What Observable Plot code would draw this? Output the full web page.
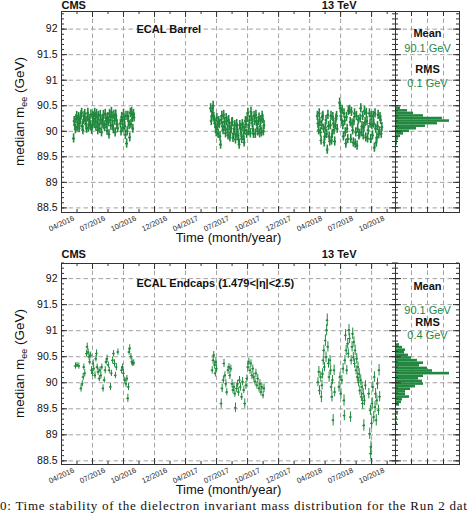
<!DOCTYPE html>
<html><head><meta charset="utf-8">
<script src="https://cdn.jsdelivr.net/npm/d3@7"></script>
<script src="https://cdn.jsdelivr.net/npm/@observablehq/plot@0.6"></script>
<style>
body{margin:0;background:#fff;}
#root{position:relative;width:474px;height:513px;overflow:hidden;font-family:"Liberation Sans",Arial,sans-serif;}
.pane{position:absolute;}
#cap{position:absolute;left:0px;top:499px;white-space:nowrap;font-family:"Liberation Serif","DejaVu Serif",serif;font-size:13px;line-height:13px;letter-spacing:0.75px;color:#111;}
</style></head>
<body><div id="root"></div>
<script>
// ---------- axis ticks ----------
const tickLabels = ["04/2016","07/2016","10/2016","12/2016","04/2017","07/2017","10/2017","12/2017","04/2018","07/2018","10/2018"];
const tickPos = [0,1,2,3,4,5,6,7,8,9,10];
const xMinor = [0.5,1.5,2.5,3.5,4.5,5.5,6.5,7.5,8.5,9.5,10.5];
const yTicks = [88.5,89,89.5,90,90.5,91,91.5,92];
const yMinor = [88.5,88.6,88.7,88.8,88.9,89,89.1,89.2,89.3,89.4,89.5,89.6,89.7,89.8,89.9,90,90.1,90.2,90.3,90.4,90.5,90.6,90.7,90.8,90.9,91,91.1,91.2,91.3,91.4,91.5,91.6,91.7,91.8,91.9,92,92.1,92.2,92.3];
const histGrid = [16,32,48];

// ---------- ECAL Barrel: time series ----------
const ebT = [0.39,0.43,0.47,0.51,0.55,0.59,0.63,0.67,0.71,0.75,0.79,0.83,0.87,0.91,0.95,0.99,1.03,1.07,1.11,1.15,1.19,1.23,1.27,1.31,1.35,1.39,1.43,1.47,1.51,1.55,1.59,1.63,1.67,1.71,1.75,1.79,
 1.90,1.94,1.98,2.02,2.06,2.10,2.14,2.18,2.22,2.26,2.30,2.34,
 4.81,4.85,4.89,4.93,4.97,5.01,5.05,5.09,5.13,5.17,5.21,5.25,5.29,5.33,5.37,5.41,5.45,5.49,5.53,5.57,5.61,5.65,5.69,5.73,5.77,5.81,5.85,5.89,5.93,5.97,6.01,6.05,6.09,6.13,6.17,6.21,6.25,6.29,6.33,6.37,6.41,6.45,6.49,6.53,
 8.25,8.29,8.33,8.37,8.41,8.45,8.49,8.53,8.57,8.61,8.65,8.69,8.73,8.77,8.81,8.85,8.89,
 8.97,9.01,9.05,9.09,9.13,9.17,9.21,9.25,
 9.29,9.33,9.37,9.41,9.45,9.49,9.53,9.57,9.61,9.65,9.69,9.73,9.77,9.81,9.85,9.89,
 9.93,9.97,10.01,10.05,10.09,10.13,10.17,10.21,10.25,10.29,10.33,
 0.41,0.45,0.49,0.53,0.57,0.61,0.65,0.69,0.73,0.77,0.81,0.85,0.89,0.93,0.97,1.01,1.05,1.09,1.13,1.17,1.21,1.25,1.29,1.33,1.37,1.41,1.45,1.49,1.53,1.57,1.61,1.65,1.69,1.73,1.77,1.81,
 1.92,1.96,2.00,2.04,2.08,2.12,2.16,2.20,2.24,2.28,2.32,
 4.83,4.87,4.91,4.95,4.99,5.03,5.07,5.11,5.15,5.19,5.23,5.27,5.31,5.35,5.39,5.43,5.47,5.51,5.55,5.59,5.63,5.67,5.71,5.75,5.79,5.83,5.87,5.91,5.95,5.99,6.03,6.07,6.11,6.15,6.19,6.23,6.27,6.31,6.35,6.39,6.43,6.47,6.51,
 8.27,8.31,8.35,8.39,8.43,8.47,8.51,8.55,8.59,8.63,8.67,8.71,8.75,8.79,8.83,8.87,
 8.99,9.03,9.07,9.11,9.15,9.19,9.23,
 9.31,9.35,9.39,9.43,9.47,9.51,9.55,9.59,9.63,9.67,9.71,9.75,9.79,9.83,9.87,
 9.95,9.99,10.03,10.07,10.11,10.15,10.19,10.23,10.27,10.31];
const ebM = [89.86,90.12,90.24,90.08,90.28,90.16,90.31,90.10,90.22,90.34,90.14,90.27,90.07,90.20,90.33,90.12,90.25,90.36,90.09,90.19,90.30,90.05,90.22,90.15,90.32,90.08,90.26,90.01,90.18,90.34,90.11,90.28,90.04,90.21,90.33,90.13,
 90.15,90.28,90.06,90.22,89.93,89.76,90.30,90.12,90.36,90.38,90.05,90.27,
 90.45,90.30,90.50,90.22,90.08,90.26,89.95,90.14,89.74,90.30,90.02,90.18,89.96,90.20,89.92,90.10,89.98,90.17,89.87,90.05,89.84,90.14,89.92,89.74,90.06,89.85,90.08,89.78,90.20,89.95,90.36,90.12,89.96,90.28,90.05,90.30,89.95,90.18,90.00,90.27,90.10,89.98,90.24,90.12,
 90.30,90.02,90.18,89.82,90.28,90.05,89.90,90.22,89.64,90.10,89.80,90.30,89.95,90.15,89.80,90.25,90.05,
 90.56,90.30,90.42,89.90,90.20,89.76,90.05,90.40,
 90.42,89.85,90.15,89.78,90.35,89.98,89.72,90.22,89.95,90.45,90.10,89.92,90.40,89.88,90.20,90.02,
 90.35,89.85,90.12,90.30,89.68,90.05,89.88,90.32,90.00,90.22,90.08,
 90.20,90.04,90.30,90.17,90.06,90.26,90.36,90.02,90.30,90.20,90.05,90.36,90.24,90.11,90.03,90.30,90.14,90.24,90.34,90.02,90.14,90.32,89.98,90.24,90.12,90.34,90.14,90.28,89.94,90.22,90.38,90.12,90.32,89.98,90.22,90.06,
 90.00,90.20,90.34,90.10,90.30,90.00,90.20,89.88,90.14,90.26,90.34,
 90.20,90.40,90.28,90.15,89.98,90.10,90.20,89.90,90.22,90.10,90.32,90.08,90.26,90.04,90.22,89.88,90.06,90.18,89.95,90.12,89.94,90.04,89.84,90.12,89.96,90.14,89.90,90.02,90.14,90.26,90.00,90.22,90.38,90.16,89.95,90.20,90.32,90.06,90.20,89.96,90.22,90.30,90.00,
 90.15,90.35,89.98,90.12,90.30,89.78,90.08,89.95,90.32,89.90,90.12,89.82,90.28,90.02,90.12,90.30,
 90.45,90.22,90.12,90.35,89.98,90.28,89.85,
 90.18,90.38,90.02,90.20,89.76,90.30,90.05,89.92,90.25,89.98,90.30,90.08,90.18,90.36,89.86,
 90.15,90.30,89.92,90.15,90.35,89.78,90.10,89.94,90.28,89.95];
const ebErr = 0.09;

// ---------- ECAL Endcaps: time series ----------
const eeT = [0.45,0.50,0.56,0.63,0.67,0.70,0.72,0.75,0.81,0.83,0.86,0.89,0.91,0.94,0.97,1.00,1.02,1.04,1.08,1.11,1.13,1.15,1.18,1.22,1.24,1.27,1.30,1.34,1.38,1.41,1.44,1.47,1.51,1.54,1.58,1.61,1.65,1.68,1.71,1.74,1.77,1.82,
 1.94,1.97,2.00,2.04,2.08,2.11,2.14,2.16,2.18,2.20,2.24,2.27,2.30,2.33,
 4.86,4.89,4.91,4.94,4.96,4.98,5.00,5.15,5.18,5.22,5.24,5.27,5.30,5.33,5.37,5.40,5.43,5.46,5.50,5.53,5.56,5.59,5.61,5.65,5.68,5.71,5.74,5.77,5.81,5.84,5.88,5.91,5.95,5.98,6.01,6.04,6.08,6.11,6.14,6.17,6.20,6.24,6.27,6.30,6.33,6.37,6.40,6.43,6.46,6.50,6.53,
 8.27,8.30,8.32,8.36,8.38,8.40,8.42,8.44,8.46,8.48,8.51,8.53,8.55,8.57,8.59,8.61,8.63,8.66,8.68,8.70,8.72,8.74,8.76,8.79,8.81,
 8.95,8.98,9.01,9.04,9.08,9.11,9.12,9.14,9.16,9.18,9.20,9.23,9.25,9.27,9.29,9.32,9.34,9.37,9.39,9.41,9.43,9.45,9.47,9.50,9.52,9.54,9.56,9.58,9.60,9.62,9.65,9.67,9.69,9.71,9.73,9.75,9.77,9.80,
 9.91,9.94,9.96,9.97,9.98,10.00,10.02,10.04,10.07,10.09,10.11,10.13,10.15,10.17,10.19,10.22,10.24,10.26];
const eeM = [90.32,90.34,90.32,89.89,89.98,90.11,90.30,90.18,90.56,90.69,90.59,90.50,90.40,90.53,90.24,90.18,90.37,90.27,90.14,90.46,90.56,90.30,90.21,90.08,90.24,90.14,90.30,89.89,90.05,90.24,90.40,90.46,90.34,90.24,89.92,90.18,90.43,90.56,90.37,90.14,90.30,90.59,
 90.24,90.30,90.18,90.05,89.98,90.08,89.70,89.92,90.59,90.66,90.50,90.40,90.37,90.38,
 90.24,90.43,90.53,90.34,90.18,90.40,90.27,89.60,89.89,90.05,90.37,90.14,89.98,89.82,90.24,90.30,90.14,90.27,89.98,89.86,89.92,89.79,89.52,89.89,89.98,89.82,90.05,89.92,89.73,90.02,89.86,89.60,89.95,90.08,90.30,90.40,90.24,90.37,90.14,90.27,90.11,90.02,90.18,89.95,90.08,89.89,89.98,89.82,89.92,89.76,89.89,
 90.01,90.21,89.85,90.11,89.73,89.95,90.17,90.43,90.62,90.30,90.81,90.49,91.01,91.20,90.69,90.37,90.11,90.43,90.24,89.92,89.73,90.05,89.28,90.24,89.82,
 89.92,90.11,89.79,90.05,90.27,89.66,89.37,90.43,90.91,90.62,90.24,90.75,90.56,91.01,90.85,89.34,90.43,90.69,90.94,90.49,90.78,90.37,90.62,90.24,90.46,90.11,90.30,90.01,90.17,89.85,90.05,89.73,89.92,89.60,89.79,89.18,89.66,89.95,
 89.79,89.02,89.47,88.64,88.77,89.22,89.60,89.92,89.34,90.11,89.53,89.79,89.28,89.66,89.98,89.47,90.24,89.73];
const eeE = [0.06,0.05,0.06,0.07,0.06,0.07,0.06,0.07,0.06,0.07,0.06,0.07,0.06,0.06,0.07,0.06,0.07,0.06,0.07,0.06,0.07,0.06,0.07,0.06,0.06,0.07,0.06,0.07,0.06,0.07,0.06,0.07,0.06,0.06,0.07,0.06,0.07,0.06,0.07,0.06,0.07,0.06,
 0.07,0.06,0.07,0.06,0.07,0.06,0.08,0.07,0.06,0.07,0.06,0.07,0.06,0.06,
 0.07,0.08,0.07,0.08,0.07,0.08,0.07,0.09,0.08,0.07,0.08,0.07,0.08,0.07,0.08,0.07,0.08,0.07,0.08,0.07,0.08,0.07,0.09,0.08,0.07,0.08,0.07,0.08,0.07,0.08,0.07,0.09,0.08,0.07,0.08,0.07,0.08,0.07,0.08,0.07,0.08,0.07,0.08,0.07,0.08,0.07,0.08,0.07,0.08,0.07,0.08,
 0.09,0.10,0.09,0.10,0.11,0.09,0.10,0.09,0.10,0.09,0.11,0.10,0.11,0.12,0.10,0.09,0.10,0.09,0.10,0.09,0.10,0.09,0.11,0.10,0.09,
 0.10,0.09,0.10,0.09,0.10,0.11,0.10,0.09,0.11,0.10,0.09,0.10,0.09,0.11,0.10,0.10,0.09,0.10,0.11,0.09,0.10,0.09,0.10,0.09,0.10,0.09,0.10,0.09,0.10,0.09,0.10,0.09,0.10,0.11,0.10,0.11,0.10,0.09,
 0.10,0.11,0.10,0.12,0.11,0.10,0.11,0.10,0.11,0.10,0.11,0.10,0.11,0.10,0.11,0.10,0.11,0.10];

// ---------- projected distributions (bin lower edge, entries) ----------
const ebBinLow = [90.425,90.375,90.325,90.275,90.225,90.175,90.125,90.075,90.025,89.975,89.925,89.875,89.825,89.775,89.725,89.675];
const ebBinN   = [5,12,18,28,47,54,42,30,21,14,8,5,3,2,2,1];
const eeBinLow = [90.90,90.70,90.65,90.60,90.55,90.50,90.45,90.40,90.35,90.30,90.25,90.20,90.15,90.10,90.05,90.00,89.95,89.90,89.85,89.80,89.75,89.70,89.65,89.60,89.55,89.40,89.30,89.25,89.20,89.10,89.00];
const eeBinN   = [1,4,7,10,9,13,16,22,28,24,32,37,54,28,23,27,28,20,15,10,10,14,7,6,4,3,2,1,2,1,1];
const binWidth = 0.05;

const panels = [
  {title:"ECAL Barrel", T:ebT, M:ebM, E:ebT.map(()=>ebErr), sw:1.6, r:1.3, lo:ebBinLow, n:ebBinN, mean:"90.1 GeV", rms:"0.1 GeV",
   ydom:[88.41,92.345], top:0, cmsDy:-6.5, textDy:[22.3,36.7,58.3,72.3], titleDy:18.3},
  {title:"ECAL Endcaps (1.479<|η|<2.5)", T:eeT, M:eeM, E:eeE, sw:1, r:1.1, lo:eeBinLow, n:eeBinN, mean:"90.1 GeV", rms:"0.4 GeV",
   ydom:[88.43,92.29], top:252, cmsDy:-8.8, textDy:[23,47,58.7,72], titleDy:20.3}
];

const GREEN = "#23883f";
const GRID = "#a3a3a3";
const AX = "#333";
const FONT = "'Liberation Sans', Arial, Helvetica, sans-serif";
const FW = 334, FH = 201, HW = 64;
const root = document.getElementById("root");

function grid(xvals) {
  return [
    Plot.ruleX(xvals, {x: d=>d, stroke: GRID, strokeDasharray: "4.5,3", strokeWidth: 1}),
    Plot.ruleY(yTicks, {y: d=>d, stroke: GRID, strokeDasharray: "4.5,3", strokeWidth: 1})
  ];
}
function yTickMarks(fw) {
  return [
    Plot.tickY(yTicks, {y: d=>d, insetRight: fw-6, stroke: AX}),
    Plot.tickY(yMinor, {y: d=>d, insetRight: fw-3, stroke: AX}),
    Plot.tickY(yTicks, {y: d=>d, insetLeft: fw-6, stroke: AX}),
    Plot.tickY(yMinor, {y: d=>d, insetLeft: fw-3, stroke: AX})
  ];
}

panels.forEach(p => {
  const pts = p.T.map((t,i)=>({t, m:p.M[i], e:p.E[i]}));
  const main = Plot.plot({
    width: 396, height: 252, marginLeft: 61, marginRight: 1, marginTop: 11, marginBottom: 40,
    x: {domain:[0,10.77], axis:null},
    y: {domain:p.ydom, axis:null},
    style: {fontFamily: FONT, background:"none", overflow:"visible", color:"#111"},
    marks: [
      ...grid(tickPos),
      Plot.ruleX(pts, {x:"t", y1:d=>d.m-d.e, y2:d=>d.m+d.e, stroke:GREEN, strokeWidth:p.sw}),
      Plot.ruleY(pts, {y:"m", x1:d=>d.t-0.035, x2:d=>d.t+0.035, stroke:GREEN, strokeWidth:1}),
      Plot.dot(pts, {x:"t", y:"m", r:p.r, fill:GREEN, stroke:"none"}),
      ...yTickMarks(FW),
      Plot.tickX(tickPos, {x:d=>d, insetTop: FH-6, stroke:AX}),
      Plot.tickX(xMinor, {x:d=>d, insetTop: FH-3, stroke:AX}),
      Plot.tickX(tickPos, {x:d=>d, insetBottom: FH-6, stroke:AX}),
      Plot.tickX(xMinor, {x:d=>d, insetBottom: FH-3, stroke:AX}),
      Plot.frame({stroke:AX, strokeWidth:1}),
      Plot.text(yTicks, {y:d=>d, text:d=>String(d), frameAnchor:"left", dx:-4, textAnchor:"end", fontSize:10.5, fill:"#111"}),
      Plot.text(tickLabels, {x:(d,i)=>tickPos[i], text:d=>d, frameAnchor:"bottom", dy:11, rotate:-25, textAnchor:"middle", lineAnchor:"middle", fontSize:7.5, fill:"#222"}),
      Plot.text(["Time (month/year)"], {text:d=>d, frameAnchor:"bottom", dy:25.8, lineAnchor:"middle", fontSize:13, fill:"#111"}),
      Plot.text([p.title], {text:d=>d, frameAnchor:"top-left", dx:75, dy:p.titleDy, textAnchor:"start", lineAnchor:"middle", fontSize:11, fontWeight:"bold", fill:"#111"}),
      Plot.text(["CMS"], {text:d=>d, frameAnchor:"top-left", dy:p.cmsDy, textAnchor:"start", lineAnchor:"middle", fontSize:11, fontWeight:"bold", fill:"#111"}),
      Plot.text(["13 TeV"], {text:d=>d, frameAnchor:"top-left", dx:277.7, dy:p.cmsDy, textAnchor:"middle", lineAnchor:"middle", fontSize:11, fontWeight:"bold", fill:"#111"})
    ]
  });
  const yt = d3.select(main).append("text")
    .attr("transform","translate(23.5,111.5) rotate(-90)")
    .attr("text-anchor","middle").attr("font-size",13.5).attr("fill","#111")
    .attr("font-family", FONT);
  yt.append("tspan").text("median m");
  yt.append("tspan").attr("font-size",9).attr("dy",3).text("ee");
  yt.append("tspan").attr("dy",-3).text(" (GeV)");

  const bins = p.lo.map((l,i)=>({y1:l, y2:l+binWidth, n:p.n[i]}));
  const hist = Plot.plot({
    width: 70, height: 252, marginLeft: 1, marginRight: 5, marginTop: 11, marginBottom: 40,
    x: {domain:[0,HW], axis:null},
    y: {domain:p.ydom, axis:null},
    style: {fontFamily: FONT, background:"none", overflow:"visible"},
    marks: [
      ...grid(histGrid),
      Plot.rectX(bins, {x1:0, x2:"n", y1:"y1", y2:"y2", fill:GREEN, inset:0}),
      ...yTickMarks(HW),
      Plot.tickX(histGrid, {x:d=>d, insetTop: FH-5, stroke:AX}),
      Plot.tickX(histGrid, {x:d=>d, insetBottom: FH-5, stroke:AX}),
      Plot.frame({stroke:AX, strokeWidth:1}),
      Plot.text(["Mean"], {text:d=>d, frameAnchor:"top", dy:p.textDy[0], textAnchor:"middle", lineAnchor:"middle", fontSize:11, fontWeight:"bold", fill:"#111"}),
      Plot.text([p.mean], {text:d=>d, frameAnchor:"top", dy:p.textDy[1], textAnchor:"middle", lineAnchor:"middle", fontSize:11, fill:GREEN}),
      Plot.text(["RMS"], {text:d=>d, frameAnchor:"top", dy:p.textDy[2], textAnchor:"middle", lineAnchor:"middle", fontSize:11, fontWeight:"bold", fill:"#111"}),
      Plot.text([p.rms], {text:d=>d, frameAnchor:"top", dy:p.textDy[3], textAnchor:"middle", lineAnchor:"middle", fontSize:11, fill:GREEN})
    ]
  });

  const d1 = document.createElement("div"); d1.className="pane"; d1.style.left="0px"; d1.style.top=p.top+"px"; d1.appendChild(main); root.appendChild(d1);
  const d2 = document.createElement("div"); d2.className="pane"; d2.style.left="394px"; d2.style.top=p.top+"px"; d2.appendChild(hist); root.appendChild(d2);
});

const cap = document.createElement("div");
cap.id = "cap";
cap.textContent = "0: Time stability of the dielectron invariant mass distribution for the Run 2 dat";
root.appendChild(cap);
</script>
</body></html>
